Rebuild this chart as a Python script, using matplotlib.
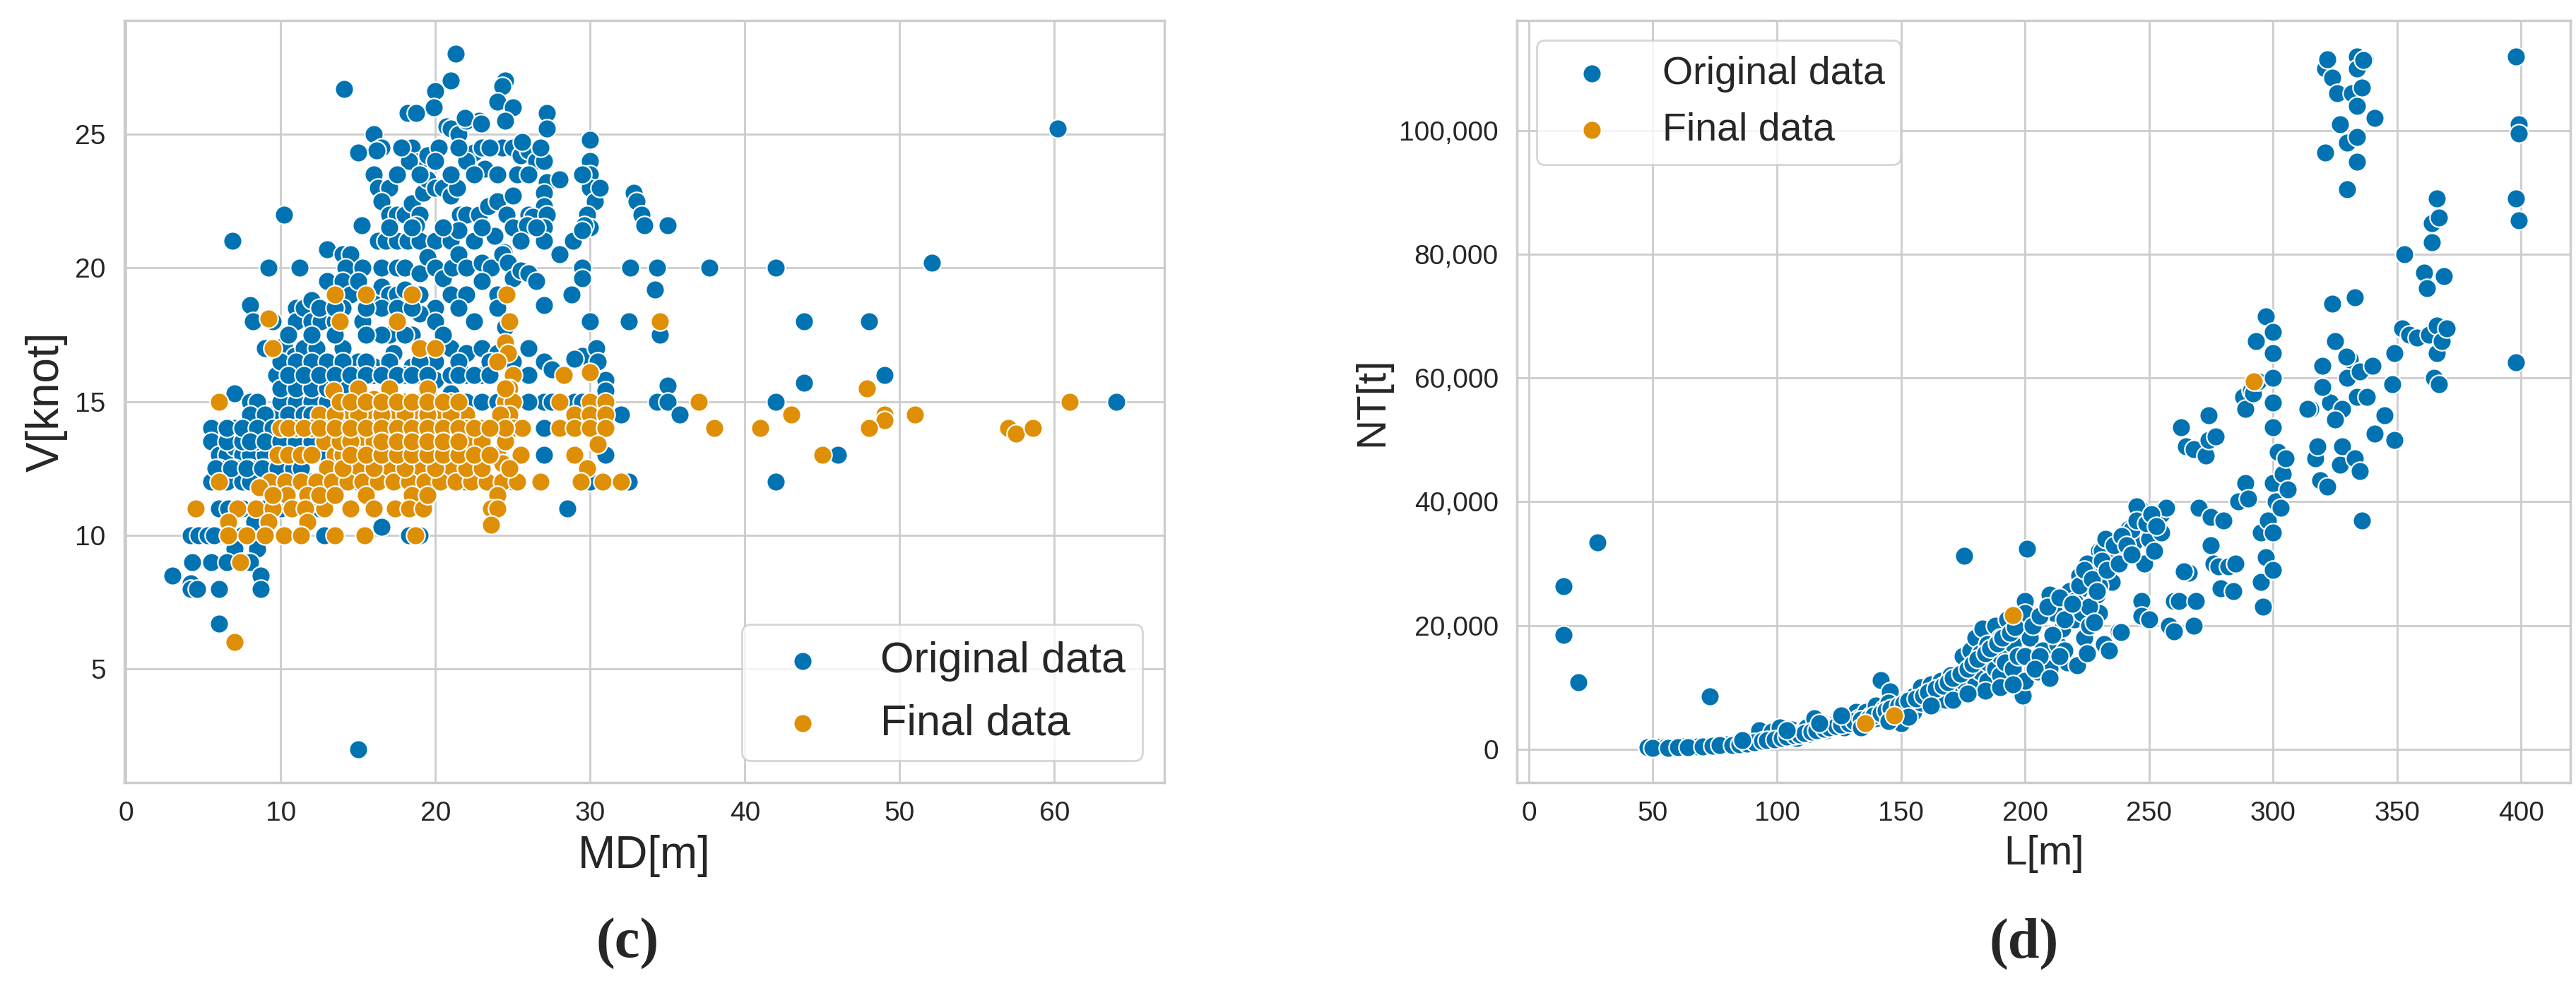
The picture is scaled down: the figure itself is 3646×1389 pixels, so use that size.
import matplotlib
matplotlib.use("Agg")
import matplotlib.pyplot as plt
import seaborn as sns
from matplotlib.ticker import FuncFormatter, MultipleLocator

# ---------------- panel (c): MD[m] vs V[knot] ----------------
md_orig = [
    21.3, 14.1, 21.0, 24.5, 24.3, 20.0, 19.9, 18.2, 22.8, 24.0, 25.0, 24.5, 27.2, 27.2, 30.0, 30.0, 30.0, 30.0, 30.3, 29.8,
    30.0, 30.6, 16.0, 16.5, 16.2, 15.0, 18.5, 19.0, 18.3, 19.5, 20.2, 20.0, 20.7, 21.0, 21.5, 22.0, 22.5, 22.0, 23.0, 23.2,
    24.0, 24.3, 25.0, 25.5, 26.0, 25.3, 26.5, 27.0, 27.2, 27.0, 27.0, 28.0, 21.9, 22.95, 25.6, 18.75,
    16.0, 16.3, 17.0, 16.5, 17.0, 17.5, 18.0, 18.5, 19.0, 19.2, 19.5, 20.0, 20.5, 21.0, 21.4, 21.6, 22.0, 22.8, 23.4, 24.0,
    24.6, 25.0, 25.0, 26.0, 26.3, 27.2, 27.0, 32.8, 33.0, 33.3, 33.5, 35.0, 10.2, 6.9, 15.25, 18.75, 25.9, 29.6,
    16.3, 16.8, 17.5, 18.2, 19.0, 20.0, 21.0, 21.5, 22.5, 23.8, 24.4, 25.5, 27.0, 28.9, 29.5,
    9.2, 11.2, 13.0, 14.0, 14.5, 14.2, 15.3, 16.5, 17.5, 18.0, 19.0, 19.5, 20.0, 20.5, 21.1, 21.5, 22.0, 23.0, 23.6, 24.3,
    24.7, 25.0, 25.5, 26.0, 26.5, 28.0, 29.5, 29.5, 32.6, 34.3, 37.7, 42.0, 52.1,
    13.0, 14.0, 14.5, 15.0, 16.0, 16.5, 17.0, 17.5, 18.0, 19.0, 20.0, 21.0, 22.0, 23.0, 24.0, 27.0, 28.8, 34.2,
    8.0, 8.2, 9.5, 11.0, 11.0, 11.5, 12.0, 12.0, 12.6, 13.5, 14.0, 15.3, 16.5, 17.0, 17.5, 18.5, 19.0, 20.0, 21.5, 22.5,
    24.0, 24.5, 30.0, 32.5, 34.5, 43.8, 48.0,
    9.0, 10.2, 10.9, 11.5, 12.3, 13.0, 14.0, 15.0, 16.0, 16.5, 17.3, 18.5, 20.0, 21.0, 22.0, 23.0, 24.0, 26.0, 27.0, 27.5,
    29.5, 30.4,
    9.7, 10.5, 11.0, 11.8, 12.7, 13.5, 14.4, 15.0, 16.0, 17.0, 18.0, 19.0, 20.0, 21.0, 22.0, 23.0, 25.0, 26.0, 27.5, 29.0,
    30.5, 31.0, 35.0, 43.8, 49.0,
    7.0, 8.0, 8.5, 9.5, 10.0, 11.0, 12.0, 13.0, 14.0, 15.0, 16.0, 17.0, 18.0, 20.0, 21.0, 22.0, 23.0, 24.0, 27.0, 29.0,
    30.0, 31.0, 34.3, 35.0, 42.0, 64.0, 60.2, 35.8,
    5.5, 7.0, 8.0, 9.0, 10.0, 11.0, 12.0, 13.0, 14.0, 15.0, 16.0, 17.0, 18.0, 19.0, 20.0, 21.0, 22.0, 23.0, 24.0, 25.0,
    27.0, 28.0, 29.0, 31.0, 32.0,
    5.5, 6.0, 6.5, 7.0, 7.5, 8.0, 9.0, 10.0, 11.0, 12.0, 13.0, 14.0, 15.0, 16.0, 17.0, 18.0, 19.0, 20.0, 21.0, 22.0,
    23.0, 24.0, 27.0, 31.0, 46.0,
    6.0, 7.0, 8.0, 9.0, 10.0, 22.2,
    5.5, 6.5, 7.5, 8.0, 9.5, 10.5, 12.0, 13.0, 15.0, 20.0, 22.0, 25.0, 30.0, 32.0, 42.0, 32.5,
    6.0, 6.6, 7.5, 8.5, 9.0, 10.0, 11.5, 12.5, 28.5, 16.5,
    4.2, 4.7, 5.3, 6.0, 6.5, 7.0, 7.5, 8.0, 9.0, 13.0, 19.0, 5.7, 12.8, 18.3, 8.3,
    7.0, 8.5, 4.3, 5.5, 6.5, 7.5, 8.0, 3.0, 4.2, 8.7, 4.2, 4.6, 6.0, 8.7, 6.0, 15.0,
    6.5, 7.5, 8.5, 9.5, 10.5, 11.5, 5.8, 6.8, 7.8, 8.8, 9.8, 10.8, 11.3, 8.0, 9.0, 10.5, 11.5, 12.0,
    10.0, 11.0, 12.0, 13.0, 14.0, 10.0, 11.0, 12.0, 13.0, 14.0, 15.5, 17.0, 19.0, 21.5, 23.5, 25.0,
    10.5, 12.0, 13.5, 15.5, 18.0, 20.5, 12.5, 13.5, 15.5, 17.5, 18.5, 17.0, 18.5, 20.5, 23.0, 26.5,
    17.5, 19.0, 21.0, 22.5, 26.0, 29.5, 17.8, 21.5, 23.5, 26.8,
    6.5, 7.5, 8.5, 9.5, 10.5, 11.5, 12.5, 8.0, 9.0, 10.0, 11.0, 12.0, 10.5, 11.5, 12.5, 13.5, 14.5, 15.5, 16.5, 17.5,
    18.5, 19.5, 21.5, 22.5, 23.5, 26.0, 27.5, 29.5,
]
v_orig = [
    28.0, 26.7, 27.0, 27.0, 26.8, 26.6, 26.0, 25.8, 25.5, 26.2, 26.0, 25.5, 25.8, 25.2, 24.8, 24.0, 23.5, 23.0, 22.5, 22.0,
    21.5, 23.0, 25.0, 24.5, 24.4, 24.3, 24.5, 24.0, 24.0, 24.2, 24.5, 24.0, 25.3, 25.2, 25.0, 25.5, 24.3, 24.0, 24.5, 23.7,
    23.5, 24.5, 24.5, 24.2, 24.4, 23.5, 24.0, 24.0, 23.2, 22.8, 22.3, 23.3, 25.6, 25.4, 24.7, 25.8,
    23.5, 23.0, 23.0, 22.5, 22.0, 22.0, 22.0, 22.4, 22.0, 22.8, 23.3, 23.0, 23.0, 22.7, 23.0, 22.0, 22.0, 22.0, 22.3, 22.5,
    22.0, 22.7, 21.5, 22.0, 21.9, 22.0, 21.5, 22.8, 22.5, 22.0, 21.6, 21.6, 22.0, 21.0, 21.6, 21.6, 21.6, 21.6,
    21.0, 21.0, 21.0, 21.0, 21.0, 21.0, 21.0, 21.4, 21.0, 21.2, 20.6, 21.0, 21.0, 21.0, 21.4,
    20.0, 20.0, 20.7, 20.5, 20.5, 20.0, 20.0, 20.0, 20.0, 20.0, 19.8, 20.4, 20.0, 19.6, 20.0, 20.5, 20.0, 20.2, 20.0, 20.5,
    20.2, 19.6, 19.9, 19.8, 19.5, 20.5, 20.0, 19.6, 20.0, 20.0, 20.0, 20.0, 20.2,
    19.5, 19.5, 19.0, 19.5, 19.0, 19.3, 19.0, 19.0, 19.2, 19.0, 18.5, 19.0, 19.0, 19.5, 19.0, 18.6, 19.0, 19.2,
    18.6, 18.0, 18.0, 18.5, 18.0, 18.5, 18.8, 18.0, 18.0, 18.0, 18.5, 18.0, 18.5, 17.5, 18.0, 17.5, 18.3, 18.0, 18.5, 18.0,
    18.5, 17.8, 18.0, 18.0, 17.5, 18.0, 18.0,
    17.0, 17.1, 16.7, 17.0, 17.0, 16.5, 17.0, 16.5, 16.3, 17.5, 16.8, 16.3, 16.5, 17.0, 16.8, 17.0, 16.8, 17.0, 16.5, 16.2,
    16.7, 17.0,
    16.0, 16.3, 16.0, 16.0, 16.0, 16.0, 16.0, 16.0, 16.0, 16.0, 16.0, 16.0, 15.8, 16.0, 16.0, 16.0, 16.0, 16.0, 16.2, 16.6,
    16.5, 15.8, 15.6, 15.7, 16.0,
    15.3, 15.0, 15.0, 14.5, 15.0, 15.0, 15.0, 15.0, 15.0, 15.0, 15.0, 15.0, 15.0, 15.0, 15.3, 15.0, 15.0, 15.0, 15.0, 15.0,
    15.0, 15.4, 15.0, 15.0, 15.0, 15.0, 25.2, 14.5,
    14.0, 14.0, 14.0, 13.8, 14.0, 14.0, 14.0, 14.0, 14.0, 14.0, 14.0, 14.0, 14.0, 14.0, 14.0, 14.0, 14.0, 14.0, 14.0, 14.0,
    14.0, 14.0, 14.0, 14.0, 14.5,
    13.5, 13.0, 13.0, 13.3, 13.0, 13.0, 13.0, 13.0, 13.0, 13.0, 13.0, 13.0, 13.0, 13.0, 13.0, 13.0, 13.0, 13.0, 13.0, 13.0,
    13.0, 13.0, 13.0, 13.0, 13.0,
    12.5, 12.5, 12.5, 12.5, 12.6, 12.5,
    12.0, 12.0, 12.0, 12.0, 12.0, 12.0, 12.0, 12.0, 12.0, 12.0, 12.0, 12.0, 12.0, 12.0, 12.0, 12.0,
    11.0, 11.0, 11.0, 11.0, 11.0, 11.0, 11.0, 11.0, 11.0, 10.3,
    10.0, 10.0, 10.0, 10.0, 10.0, 10.0, 10.0, 10.0, 10.0, 10.0, 10.0, 10.0, 10.0, 10.0, 10.5,
    9.5, 9.5, 9.0, 9.0, 9.0, 9.0, 9.0, 8.5, 8.2, 8.5, 8.0, 8.0, 8.0, 8.0, 6.7, 2.0,
    13.5, 13.5, 13.5, 13.5, 13.5, 13.5, 12.5, 12.5, 12.5, 12.5, 12.5, 12.5, 12.5, 14.5, 14.5, 14.5, 14.5, 14.5,
    15.5, 15.5, 15.5, 15.5, 15.5, 16.5, 16.5, 16.5, 16.5, 16.5, 16.5, 16.5, 16.5, 16.5, 16.5, 16.5,
    17.5, 17.5, 17.5, 17.5, 17.5, 17.5, 18.5, 18.5, 18.5, 18.5, 18.5, 21.5, 21.5, 21.5, 21.5, 21.5,
    23.5, 23.5, 23.5, 23.5, 23.5, 23.5, 24.5, 24.5, 24.5, 24.5,
    14.0, 14.0, 14.0, 14.0, 14.0, 14.0, 14.0, 13.5, 13.5, 13.5, 13.5, 13.5, 16.0, 16.0, 16.0, 16.0, 16.0, 16.0, 16.0, 16.0,
    16.0, 16.0, 16.0, 16.0, 16.0, 15.0, 15.0, 15.0,
]

md_final = [
    13.5, 15.5, 18.5, 24.6, 9.2, 13.8, 17.5, 24.8, 34.5, 9.5, 19.0, 20.0, 24.5, 24.7, 24.0, 25.0, 24.8, 28.3, 30.0, 47.9,
    6.0, 13.4, 15.0, 16.0, 17.0, 18.0, 19.0, 20.0, 21.0, 24.5, 25.0, 28.0, 30.0, 31.0, 37.0, 61.0,
    12.5, 14.0, 15.5, 17.0, 18.5, 20.0, 22.0, 24.8, 29.0, 30.0, 31.0, 43.0, 49.0, 51.0, 49.0,
    10.0, 11.0, 13.0, 14.0, 15.0, 16.0, 17.0, 18.0, 19.0, 20.0, 21.0, 22.0, 23.0, 24.0, 25.0, 25.6, 28.0, 29.0, 30.0, 31.0,
    38.0, 41.0, 48.0, 57.0, 57.5, 58.6,
    12.8, 15.0, 17.0, 18.0, 20.0, 30.5,
    9.8, 10.5, 11.3, 12.0, 13.5, 14.0, 15.0, 16.0, 17.0, 18.0, 19.0, 20.0, 22.0, 24.0, 25.5, 29.0, 45.0,
    13.0, 15.0, 17.0, 19.0, 21.0, 24.3, 29.8,
    6.0, 9.3, 10.3, 11.3, 12.3, 13.3, 14.3, 15.3, 16.3, 17.3, 18.3, 19.3, 20.3, 21.3, 22.3, 23.3, 24.3, 25.3, 26.8, 29.4,
    30.8, 32.0,
    8.6, 10.4, 11.7, 15.5, 18.5, 24.0,
    4.5, 7.2, 8.4, 9.5, 10.7, 11.6, 12.8, 14.5, 16.0, 17.4, 18.3, 19.2, 23.6, 24.0,
    6.6, 9.2, 11.7, 23.6,
    6.6, 7.8, 9.0, 10.2, 11.3, 13.5, 15.4, 18.7, 7.4, 7.0,
    13.8, 14.5, 16.0, 19.0, 21.0, 22.0, 23.0, 24.5, 14.0, 16.0, 18.0, 20.0, 22.0, 23.0, 24.8,
    13.5, 15.0, 16.5, 18.0, 19.5, 21.0, 24.2, 9.5, 12.5, 13.5, 19.5, 15.0, 17.0, 19.5, 24.5, 12.0, 24.5,
    10.5, 11.5, 12.5, 13.5, 14.5, 15.5, 16.5, 17.5, 18.5, 19.5, 20.5, 21.5, 22.5, 23.5,
    13.8, 14.5, 15.5, 16.5, 17.5, 18.5, 19.5, 20.5, 21.5,
    14.5, 15.5, 16.5, 17.5, 18.5, 19.5, 20.5, 21.5, 22.5, 23.5,
    16.5, 17.5, 18.5, 19.5, 20.5, 21.5,
]
v_final = [
    19.0, 19.0, 19.0, 19.0, 18.1, 18.0, 18.0, 18.0, 18.0, 17.0, 17.0, 17.0, 17.2, 16.8, 16.5, 16.0, 15.5, 16.0, 16.1, 15.5,
    15.0, 15.4, 15.0, 15.1, 15.0, 15.0, 15.0, 15.0, 15.0, 15.0, 15.0, 15.0, 15.0, 15.0, 15.0, 15.0,
    14.5, 14.5, 14.5, 14.5, 14.5, 14.5, 14.5, 14.5, 14.5, 14.5, 14.5, 14.5, 14.5, 14.5, 14.3,
    14.0, 14.0, 14.0, 14.0, 14.0, 14.0, 14.0, 14.0, 14.0, 14.0, 14.0, 14.0, 14.0, 14.0, 14.0, 14.0, 14.0, 14.0, 14.0, 14.0,
    14.0, 14.0, 14.0, 14.0, 13.8, 14.0,
    13.5, 13.5, 13.5, 13.3, 13.5, 13.4,
    13.0, 13.0, 13.0, 13.0, 13.0, 13.0, 13.0, 13.0, 13.0, 13.0, 13.0, 13.0, 13.0, 13.0, 13.0, 13.0, 13.0,
    12.5, 12.5, 12.5, 12.5, 12.5, 12.7, 12.5,
    12.0, 12.0, 12.0, 12.0, 12.0, 12.0, 12.0, 12.0, 12.0, 12.0, 12.0, 12.0, 12.0, 12.0, 12.0, 12.0, 12.0, 12.0, 12.0, 12.0,
    12.0, 12.0,
    11.8, 11.5, 11.5, 11.5, 11.5, 11.5,
    11.0, 11.0, 11.0, 11.0, 11.0, 11.0, 11.0, 11.0, 11.0, 11.0, 11.0, 11.0, 11.0, 11.0,
    10.5, 10.5, 10.5, 10.4,
    10.0, 10.0, 10.0, 10.0, 10.0, 10.0, 10.0, 10.0, 9.0, 6.0,
    13.5, 13.5, 13.5, 13.5, 13.5, 13.5, 13.5, 13.5, 12.5, 12.5, 12.5, 12.5, 12.5, 12.5, 12.5,
    14.5, 14.5, 14.5, 14.5, 14.5, 14.5, 14.5, 11.5, 11.5, 11.5, 11.5, 15.5, 15.5, 15.5, 15.5, 14.0, 14.0,
    14.0, 14.0, 14.0, 14.0, 14.0, 14.0, 14.0, 14.0, 14.0, 14.0, 14.0, 14.0, 14.0, 14.0,
    15.0, 15.0, 15.0, 15.0, 15.0, 15.0, 15.0, 15.0, 15.0,
    13.0, 13.0, 13.0, 13.0, 13.0, 13.0, 13.0, 13.0, 13.0, 13.0,
    13.5, 13.5, 13.5, 13.5, 13.5, 13.5,
]

# ---------------- panel (d): L[m] vs NT[t] ----------------
l_orig = [
    14.1, 14.1, 19.9, 27.6, 72.9, 175.4, 200.7, 141.8, 145.7,
    48, 52, 55, 58, 62, 65, 68, 72, 75, 78, 80, 83, 86, 88, 90, 92, 93, 95, 97, 98,
    100, 101, 103, 105, 106, 108, 110, 112, 113, 115, 115, 118, 120, 120, 122, 125, 127, 128, 130, 132,
    133, 136, 138, 140, 140, 143, 145, 148, 150, 152, 155, 155, 158, 158, 160, 162, 163, 165, 166, 168,
    170, 170, 172, 175, 175, 176, 178, 178, 180, 180, 180, 182, 182, 183, 185, 185, 185, 187, 188, 188,
    190, 190, 190, 192, 193, 195, 195, 197, 198, 199, 200, 200, 200, 200, 202, 205, 207, 208, 210, 210,
    212, 213, 215, 217, 218, 220, 220, 221, 222, 223, 224, 225, 225, 226, 228, 228, 230, 230, 232, 233,
    234, 235, 235, 237, 238, 240, 242, 244, 246, 246, 247, 247, 248, 250, 250, 252, 255, 257, 258, 260,
    260, 262, 263, 265, 266, 268, 268, 269, 270, 273, 274, 274, 275, 275, 276, 277, 278, 279, 280, 282,
    284, 285, 286, 288, 289, 289, 290, 291, 292, 293, 294, 295, 295, 296, 297, 297, 298, 300, 300, 300,
    300, 300, 300, 300, 300, 301, 302, 303, 304, 305, 306, 315, 317, 318, 319, 320, 321, 321, 322, 322,
    323, 324, 324, 325, 325, 326, 327, 327, 328, 328, 330, 330, 330, 331, 332, 333, 333, 334, 334, 334,
    334, 334, 334, 335, 335, 336, 336, 337, 338, 340, 341, 341, 345, 348, 349, 349, 352, 353, 355, 358,
    361, 362, 363, 364, 364, 365, 366, 366, 366, 367, 367, 368, 369, 370, 398, 398, 398, 399, 399, 399,
    225, 227, 229, 231, 226, 228, 230, 238.6, 264, 255, 245, 241.8, 236.5, 243, 232.4, 314, 320, 325, 336.5, 329.6,
    50, 56, 60, 64, 70, 74, 77, 82, 85, 88, 91, 94, 96, 99, 102, 104, 107, 109, 111, 114,
    116, 119, 121, 124, 126, 129, 131, 134, 137, 139, 142, 144, 146, 149, 151, 153, 156, 159, 161, 164,
    167, 169, 171, 174, 177, 179, 181, 184, 186, 189, 191, 194, 196, 86, 104, 117, 126, 134, 145, 153,
    162, 171, 184, 177, 190, 195,
    203, 206, 209, 214, 216, 219, 222, 224, 227, 229, 231, 233, 236, 238, 239, 241, 243, 245, 249, 251,
    253, 216, 211, 206, 204, 210, 214,
]
nt_orig = [
    26400, 18470, 10800, 33400, 8530, 31200, 32400, 11200, 9300,
    300, 300, 350, 300, 400, 400, 450, 500, 600, 700, 800, 900, 1000, 1200, 1300, 1500, 3000, 1500, 1800, 2800,
    2000, 3500, 2200, 2500, 3200, 1800, 2800, 3500, 2500, 3000, 5000, 3200, 4000, 3000, 3800, 4000, 3500, 5200, 4500, 6000,
    5000, 6000, 5500, 7000, 5000, 6500, 7500, 6000, 4200, 8000, 8500, 6000, 10000, 7500, 9000, 10500, 7000, 9500, 11000, 8000,
    12000, 10000, 9000, 15000, 12000, 10500, 13000, 16000, 14000, 11000, 18000, 15500, 12500, 19500, 17000, 14000, 11000, 16000, 13000, 20000,
    15000, 18000, 12000, 14000, 21000, 17000, 13000, 15000, 20000, 8600, 24000, 22000, 11000, 15000, 18000, 12500, 16000, 14000, 25000, 13000,
    22000, 17000, 19500, 14000, 25500, 24000, 21000, 13500, 28000, 22000, 18000, 26000, 15500, 20000, 30000, 24000, 32000, 22000, 17000, 33000,
    16000, 27000, 31000, 33000, 19000, 31000, 35000, 33500, 39000, 36000, 24000, 21500, 30000, 34000, 21000, 32000, 38000, 39000, 20000, 24000,
    19000, 24000, 52000, 49000, 28500, 48500, 20000, 24000, 39000, 47500, 50000, 54000, 33000, 37500, 30000, 50500, 29500, 26000, 37000, 29500,
    25500, 30000, 40000, 57000, 43000, 55000, 40500, 58000, 57500, 66000, 59500, 27000, 35000, 23000, 31000, 70000, 37000, 60000, 64000, 67500,
    56000, 52000, 29000, 35000, 43000, 40000, 48000, 39000, 44500, 47000, 42000, 55000, 47000, 49000, 43500, 62000, 96500, 110000, 111500, 42500,
    56000, 72000, 108500, 66000, 53500, 106000, 101000, 46000, 49000, 55000, 60000, 98000, 90500, 63000, 106000, 73000, 47000, 112000, 110000, 104000,
    99000, 95000, 57000, 61000, 45000, 37000, 107000, 111500, 57000, 62000, 102000, 51000, 54000, 59000, 64000, 50000, 68000, 80000, 67000, 66500,
    77000, 74500, 67000, 82000, 85000, 60000, 64000, 68500, 89000, 86000, 59000, 66000, 76500, 68000, 62500, 89000, 112000, 101000, 99500, 85500,
    30000, 27000, 25000, 32000, 23000, 20500, 26500, 18900, 28700, 35000, 39200, 35600, 32400, 35500, 34000, 55000, 58500, 53300, 111400, 63400,
    200, 250, 300, 350, 400, 500, 600, 700, 800, 900, 1100, 1300, 1400, 1600, 1800, 2000, 2200, 2400, 2600, 2800,
    3000, 3300, 3500, 3700, 4000, 4200, 4500, 4800, 5000, 5500, 5800, 6200, 6600, 7000, 7400, 7800, 8200, 8700, 9200, 9800,
    10300, 10800, 11500, 12200, 13000, 13800, 14600, 15500, 16300, 17100, 18000, 18800, 19700, 1500, 3000, 4200, 5500, 3500, 4500, 5200,
    7000, 8000, 9500, 9000, 10000, 10500,
    20000, 21500, 23000, 24500, 21000, 23500, 26500, 29000, 27500, 25500, 30500, 29000, 33000, 30000, 34500, 33000, 31500, 37000, 36500, 38000,
    36000, 16000, 18500, 15000, 13000, 11500, 15000,
]

l_final = [135.6, 147.4, 195.1, 292.2]
nt_final = [4200, 5430, 21640, 59400]

# ---------------- style ----------------
sns.set_theme(style="whitegrid")
plt.rcParams['font.family'] = ['Liberation Sans', 'DejaVu Sans']
pal = sns.color_palette("colorblind")
c_orig, c_final = pal[0], pal[1]

fig = plt.figure(figsize=(18.23, 6.945), dpi=200)
ax1 = fig.add_axes([0.0483, 0.2023, 0.4037, 0.7768])
ax2 = fig.add_axes([0.5889, 0.2023, 0.4090, 0.7768])

mk = dict(s=90, edgecolor='white', linewidth=0.8)

ax1.scatter(md_orig, v_orig, color=c_orig, label='Original data', **mk)
ax1.scatter(md_final, v_final, color=c_final, label='Final data', **mk)
ax1.set_xlim(-0.1, 67.1)
ax1.set_ylim(0.75, 29.25)
ax1.xaxis.set_major_locator(MultipleLocator(10))
ax1.set_yticks([5, 10, 15, 20, 25])
ax1.set_xlabel('MD[m]', fontsize=23)
ax1.set_ylabel('V[knot]', fontsize=23)
ax1.legend(loc='lower right', fontsize=22)

ax2.scatter(l_orig, nt_orig, color=c_orig, label='Original data', **mk)
ax2.scatter(l_final, nt_final, color=c_final, label='Final data', **mk)
ax2.set_xlim(-4.8, 420)
ax2.set_ylim(-5400, 117800)
ax2.xaxis.set_major_locator(MultipleLocator(50))
ax2.yaxis.set_major_locator(MultipleLocator(20000))
ax2.yaxis.set_major_formatter(FuncFormatter(lambda v, p: f'{v:,.0f}'))
ax2.set_xlabel('L[m]', fontsize=21)
ax2.set_ylabel('NT[t]', fontsize=21)
ax2.legend(loc='upper left', fontsize=20)

for ax in (ax1, ax2):
    ax.tick_params(labelsize=14)

fig.text(0.2436, 0.038, '(c)', fontsize=29, fontweight='bold',
         family=['Liberation Serif', 'DejaVu Serif'], ha='center', va='center')
fig.text(0.7858, 0.038, '(d)', fontsize=29, fontweight='bold',
         family=['Liberation Serif', 'DejaVu Serif'], ha='center', va='center')

fig.savefig('out.png', dpi=200)
